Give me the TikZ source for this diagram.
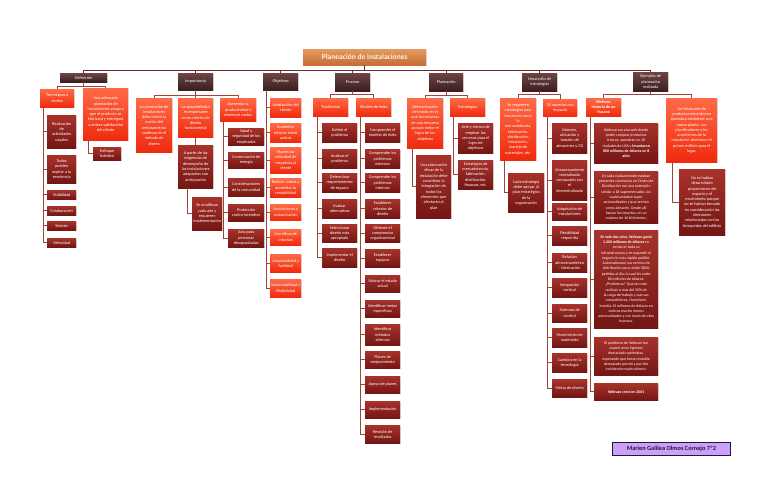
\documentclass[tikz,border=0pt]{standalone}
\usepackage{fontspec}
\setmainfont{Carlito}
\usetikzlibrary{shadows}
\definecolor{lvlT}{HTML}{6E4444}
\definecolor{lvlB}{HTML}{3A1E1E}
\definecolor{brT}{HTML}{FF6A45}
\definecolor{brB}{HTML}{F02A0E}
\definecolor{dkT}{HTML}{A8322A}
\definecolor{dkB}{HTML}{741614}
\definecolor{ttT}{HTML}{E49A5E}
\definecolor{ttB}{HTML}{C56E34}
\definecolor{conC}{HTML}{A0443A}
\definecolor{barC}{HTML}{6A2A2A}
\definecolor{lavF}{HTML}{C9A2F7}
\definecolor{lavD}{HTML}{2A1048}
\definecolor{cream}{HTML}{FFF2DE}
\tikzset{
  boxbase/.style={anchor=north west, inner sep=0.6pt, align=center, text=white,
    font=\fontsize{4.2}{5.3}\selectfont,
    drop shadow={shadow xshift=0.7pt, shadow yshift=-0.7pt, opacity=0.25}},
  lvlbox/.style={boxbase, top color=lvlT, bottom color=lvlB},
  brbox/.style={boxbase, top color=brT, bottom color=brB},
  dkbox/.style={boxbase, top color=dkT, bottom color=dkB},
  widebox/.style={dkbox, font=\fontsize{3.9}{5.3}\selectfont},
  titlebox/.style={boxbase, top color=ttT, bottom color=ttB, text=cream, font=\fontsize{7.5}{8}\selectfont\bfseries},
  namebox/.style={anchor=north west, fill=lavF, draw=lavD, line width=0.8pt, text=lavD, inner sep=1pt, font=\fontsize{6.3}{7}\selectfont\bfseries},
  conn/.style={draw=conC, line width=0.75pt},
  bar/.style={draw=barC, line width=0.9pt},
}
\newcommand\mybox[7]{\node[#1, minimum width=#5pt, minimum height=#6pt] (#2) at (#3,#4) {#7};}
\begin{document}
\begin{tikzpicture}[x=1pt,y=-1pt]
\useasboundingbox (0,0) rectangle (768,488);
\fill[white] (0,0) rectangle (768,488);

% title
\mybox{titlebox}{title}{303}{49}{123}{16}{Planeación de instalaciones}

% level 1
\mybox{lvlbox}{def}{60}{73}{47}{9}{Definición}
\mybox{lvlbox}{imp}{178}{73}{35}{17}{Importancia}
\mybox{lvlbox}{obj}{263}{73}{35}{17}{Objetivos}
\mybox{lvlbox}{pro}{335}{73}{35}{18}{Proceso}
\mybox{lvlbox}{pla}{429}{73}{34}{18}{Planeación}
\mybox{lvlbox}{des}{522}{73}{35}{18}{Desarrollo de\\estrategias}
\mybox{lvlbox}{eje}{633}{72}{35}{19}{Ejemplos de\\planeación\\realizada}

% Definicion
\mybox{brbox}{tres}{40}{89}{34}{18}{Tres etapas o\\niveles}
\mybox{brbox}{una}{83}{88}{45}{52}{Una adecuada\\planeación de\\instalaciones asegura\\que el producto se\\fabricará y entregará\\a entera satisfacción\\del cliente}
\mybox{dkbox}{enf}{93}{147}{28}{13}{Enfoque\\holístico}
\mybox{dkbox}{rea}{47}{115}{29}{33}{Realización\\de\\actividades\\usuales}
\mybox{dkbox}{tod}{47}{155}{29}{28}{Todos\\pueden\\aspirar a la\\excelencia}
\mybox{dkbox}{vis}{47}{190}{29}{9}{Visibilidad}
\mybox{dkbox}{col}{47}{206}{29}{9}{Colaboración}
\mybox{dkbox}{sin}{47}{221}{29}{9}{Síntesis}
\mybox{dkbox}{vel}{47}{238}{29}{9}{Velocidad}

% Importancia
\mybox{brbox}{lap}{136}{98}{36}{54}{La planeación de\\instalaciones\\debe incluir la\\noción del\\mejoramiento\\continuo en el\\método de\\diseño}
\mybox{brbox}{ada}{178}{98}{35}{39}{La adaptabilidad\\es importante\\como criterio de\\diseño\\fundamental}
\mybox{brbox}{aum}{220}{98}{36}{23}{Aumentar la\\productividad y\\disminuir costos}
\mybox{dkbox}{apa}{178}{145}{35}{43}{A partir de las\\exigencias de\\desempeño de\\las instalaciones\\adaptarlas con\\anticipación}
\mybox{dkbox}{sem}{192}{197}{30}{33}{Se modifican\\cada año y\\requieren\\implementación}
\mybox{dkbox}{s1}{228}{128}{36}{17}{Salud y\\seguridad de los\\empleados}
\mybox{dkbox}{s2}{228}{152}{36}{16}{Conservación de\\energía}
\mybox{dkbox}{s3}{228}{178}{36}{18}{Consideraciones\\de la comunidad}
\mybox{dkbox}{s4}{228}{204}{36}{17}{Protección\\contra incendios}
\mybox{dkbox}{s5}{228}{229}{36}{18}{Acta para\\personas\\discapacitadas}

% Objetivos
\mybox{brbox}{o1}{270}{98}{31}{19}{Satisfacción del\\cliente}
\mybox{brbox}{o2}{270}{123}{31}{19}{Aumentar\\retorno sobre\\activos}
\mybox{brbox}{o3}{270}{147}{31}{26}{Maximizar\\velocidad de\\respuesta al\\cliente}
\mybox{brbox}{o4}{270}{178}{31}{19}{Reducir costos y\\aumentar la\\rentabilidad}
\mybox{brbox}{o5}{270}{204}{31}{16}{Asociaciones y\\comunicación}
\mybox{brbox}{o6}{270}{229}{31}{16}{Uso eficaz de\\insumos}
\mybox{brbox}{o7}{270}{254}{31}{18}{Adaptabilidad y\\facilidad}
\mybox{brbox}{o8}{270}{279}{31}{18}{Sustentabilidad y\\flexibilidad}

% Proceso
\mybox{brbox}{tra}{313}{98}{35}{18}{Tradicional}
\mybox{brbox}{mod}{356}{98}{35}{18}{Modelo de éxito}
\mybox{dkbox}{t1}{322}{123}{35}{19}{Definir el\\problema}
\mybox{dkbox}{t2}{322}{149}{35}{19}{Analizar el\\problema}
\mybox{dkbox}{t3}{322}{173}{35}{19}{Determinar\\requerimientos\\de espacio}
\mybox{dkbox}{t4}{322}{199}{35}{19}{Evaluar\\alternativas}
\mybox{dkbox}{t5}{322}{224}{35}{18}{Seleccionar\\diseño más\\apropiado}
\mybox{dkbox}{t6}{322}{248}{35}{19}{Implementar el\\diseño}
\mybox{dkbox}{m1}{365}{123}{35}{19}{Comprender el\\modelo de éxito}
\mybox{dkbox}{m2}{365}{149}{35}{19}{Comprender los\\problemas\\externos}
\mybox{dkbox}{m3}{365}{173}{35}{19}{Comprender los\\problemas\\internos}
\mybox{dkbox}{m4}{365}{199}{35}{19}{Establecer\\criterios de\\diseño}
\mybox{dkbox}{m5}{365}{224}{35}{18}{Obtener el\\compromiso\\organizacional}
\mybox{dkbox}{m6}{365}{249}{35}{18}{Establecer\\equipos}
\mybox{dkbox}{m7}{365}{275}{35}{17}{Valorar el estado\\actual}
\mybox{dkbox}{m8}{365}{300}{35}{17}{Identificar metas\\específicas}
\mybox{dkbox}{m9}{365}{324}{35}{21}{Identificar\\métodos\\alternos}
\mybox{dkbox}{m10}{365}{351}{35}{17}{Planes de\\mejoramiento}
\mybox{dkbox}{m11}{365}{376}{35}{17}{Apoyo de planes}
\mybox{dkbox}{m12}{365}{401}{35}{17}{Implementación}
\mybox{dkbox}{m13}{365}{425}{35}{18}{Revisión de\\resultados}

% Planeacion
\mybox{brbox}{det}{407}{98}{36}{50}{Determinación\\del modo en el\\que los recursos\\de una empresa\\apoyan mejor el\\logro de los\\objetivos}
\mybox{brbox}{est}{450}{98}{35}{18}{Estrategias}
\mybox{dkbox}{une}{416}{155}{35}{63}{Una planeación\\eficaz de la\\instalación debe\\considerar la\\integración de\\todos los\\elementos que\\afectarán al\\plan}
\mybox{dkbox}{e1}{458}{123}{35}{30}{Arte y ciencia de\\emplear los\\recursos para el\\logro de\\objetivos}
\mybox{dkbox}{e2}{458}{160}{35}{29}{Estrategias de\\mercadotecnia,\\fabricación,\\distribución,\\finanzas, etc.}

% Desarrollo de estrategias
\mybox{brbox}{ser}{500}{98}{36}{62}{Se requieren\\estrategias para\\funciones como\\la\\mercadotecnia,\\fabricación,\\distribución,\\instalación,\\manejo de\\materiales, etc.}
\mybox{dkbox}{cad}{508}{173}{36}{39}{Cada estrategia\\debe apoyar al\\plan estratégico\\de la\\organización}
\mybox{brbox}{asp}{543}{99}{34}{17}{18 aspectos con\\impacto}
\mybox{dkbox}{a1}{552}{123}{35}{30}{Número,\\ubicación y\\tamaño de\\almacenes y CD}
\mybox{dkbox}{a2}{552}{160}{35}{40}{Almacenamiento\\centralizado\\comparado con\\el\\descentralizado}
\mybox{dkbox}{a3}{552}{203}{35}{17}{Adquisición de\\instalaciones}
\mybox{dkbox}{a4}{552}{226}{35}{19}{Flexibilidad\\requerida}
\mybox{dkbox}{a5}{552}{253}{35}{19}{Relación\\almacenamiento\\- fabricación}
\mybox{dkbox}{a6}{552}{278}{35}{19}{Integración\\vertical}
\mybox{dkbox}{a7}{552}{304}{35}{18}{Sistemas de\\control}
\mybox{dkbox}{a8}{552}{328}{35}{19}{Movimiento de\\materiales}
\mybox{dkbox}{a9}{552}{353}{35}{19}{Cambios en la\\tecnología}
\mybox{dkbox}{a10}{552}{379}{35}{18}{Metas de diseño}

% Ejemplos
\mybox{brbox}{web}{586}{98}{35}{18}{\bfseries Webvan,\\\bfseries historia de un\\\bfseries fracaso}
\mybox{widebox}{w1}{594}{123}{64}{40}{Webvan era una web donde\\poder comprar productos\\frescos, operaban en 10\\ciudades de USA y \textbf{levantaron}\\\textbf{800 millones de dólares en 8}\\\textbf{años}}
\mybox{widebox}{w2}{594}{171}{64}{52}{En cada ciudad donde estaban\\presentes construían un Centro de\\Distribución con una extensión\\similar a 18 supermercados, los\\cuales estaban super\\automatizados y que servían\\como almacén. Desde allí\\hacían los repartos, en un\\máximo de 16 kilómetros.}
\mybox{widebox}{w3}{594}{230}{64}{98}{\textbf{En solo dos años, Webvan gastó}\\\textbf{1.200 millones de dólares} en\\construir toda su\\infraestructura y en expandir el\\negocio lo más rápido posible.\\Automatizaron sus centros de\\distribución para recibir 8000\\pedidos al día, lo cual les costó\\80 millones de dólares.\\¿Problemas? Que tan solo\\recibían a más del 50\% de\\la carga de trabajo y que sus\\competidores, Homeland,\\invertía 15 millones de dólares en\\centros mucho menos\\automatizados y con mano de obra\\humana.}
\mybox{widebox}{w4}{594}{337}{64}{38}{El problema de Webvan fue\\asumir unos ingresos\\demasiado optimistas,\\esperando que fuese rentable\\demasiado pronto y por ello\\invirtiendo mucho dinero.}
\mybox{widebox}{w5}{594}{383}{64}{17}{\textbf{Webvan cerró en 2001}}
\mybox{brbox}{fab}{666}{98}{51}{64}{Un fabricante de\\productos electrónicos\\planeaba establecer una\\nueva planta. Los\\planificadores y los\\arquitectos de la\\instalación diseñaron el\\primer edificio para el\\lugar.}
\mybox{dkbox}{nos}{679}{169}{46}{66}{No se habían\\desarrollado\\proyecciones del\\espacio y el\\movimiento porque\\no se habían tomado\\en consideración las\\decisiones\\relacionadas con las\\búsquedas del edificio}

% name
\node[namebox, minimum width=118pt, minimum height=13pt] (name) at (612,442) {Marien Galilea Olmos Cornejo 7º2};

% top connectors
\draw[bar] (title.south) -- ++(0,5);
\draw[bar] (def.north) -- ++(0,-3) -| (eje.north);
\foreach \n in {imp,obj,pro,pla,des} \draw[bar] (\n.north) -- ++(0,-3);

% Definicion
\foreach \c in {tres,una} \draw[conn] (def.south) -- ++(0,4) -| (\c.north);
\foreach \c in {rea,tod,vis,col,sin,vel} \draw[conn] (tres.south west) ++(3,0) |- (\c.west);
\draw[conn] (una.south west) ++(5,0) |- (enf.west);

% Importancia
\foreach \c in {lap,ada,aum} \draw[conn] (imp.south) -- ++(0,5) -| (\c.north);
\draw[conn] (ada.south) -- (apa.north);
\draw[conn] (apa.south west) ++(9,0) |- (sem.west);
\foreach \c in {s1,s2,s3,s4,s5} \draw[conn] (aum.south west) ++(3,0) |- (\c.west);

% Objetivos
\foreach \c in {o1,o2,o3,o4,o5,o6,o7,o8} \draw[conn] (obj.south west) ++(3,0) |- (\c.west);

% Proceso
\foreach \c in {tra,mod} \draw[conn] (pro.south) -- ++(0,3) -| (\c.north);
\foreach \c in {t1,t2,t3,t4,t5,t6} \draw[conn] (tra.south west) ++(4,0) |- (\c.west);
\foreach \c in {m1,m2,m3,m4,m5,m6,m7,m8,m9,m10,m11,m12,m13} \draw[conn] (mod.south west) ++(4,0) |- (\c.west);

% Planeacion
\foreach \c in {det,est} \draw[conn] (pla.south) -- ++(0,4) -| (\c.north);
\draw[conn] (det.south west) ++(5,0) |- (une.west);
\foreach \c in {e1,e2} \draw[conn] (est.south west) ++(3,0) |- (\c.west);

% Desarrollo
\foreach \c in {ser,asp} \draw[conn] (des.south) -- ++(0,3) -| (\c.north);
\draw[conn] (ser.south west) ++(4,0) |- (cad.west);
\foreach \c in {a1,a2,a3,a4,a5,a6,a7,a8,a9,a10} \draw[conn] (asp.south west) ++(4,0) |- (\c.west);

% Ejemplos
\foreach \c in {web,fab} \draw[conn] (eje.south) -- ++(0,3) -| (\c.north);
\foreach \c in {w1,w2,w3,w4,w5} \draw[conn] (web.south west) ++(4,0) |- (\c.west);
\draw[conn] (fab.south west) ++(6,0) |- (nos.west);
\end{tikzpicture}
\end{document}
